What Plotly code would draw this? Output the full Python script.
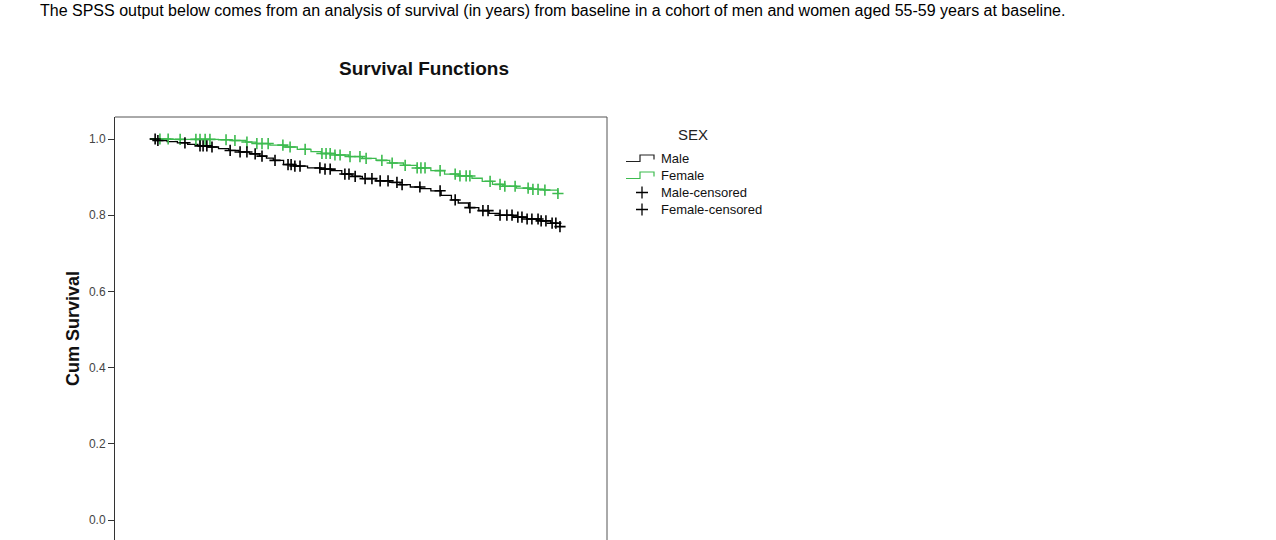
import plotly.graph_objects as go
import numpy as np

# ---- data (time in years, cumulative survival) ----
male_t = [0.0, 0.2, 0.5, 0.8, 1.1, 1.4, 1.7, 2.0, 2.3, 2.6, 2.9, 3.2, 3.4, 3.6, 3.9,
          4.2, 4.6, 5.0, 5.3, 5.6, 5.9, 6.2, 6.6, 7.0, 7.3, 7.6, 7.9, 8.2, 8.5, 8.8,
          9.0, 9.3, 9.6, 9.9, 10.2, 10.6, 11.0, 11.4, 11.7, 11.97]
male_s = [1.000, 0.996, 0.993, 0.990, 0.986, 0.982, 0.979, 0.975, 0.970, 0.966, 0.961,
          0.955, 0.950, 0.944, 0.933, 0.929, 0.924, 0.921, 0.917, 0.908, 0.902, 0.896,
          0.890, 0.886, 0.880, 0.874, 0.870, 0.864, 0.852, 0.840, 0.832, 0.820, 0.812,
          0.805, 0.800, 0.795, 0.790, 0.785, 0.779, 0.770]

female_t = [0.0, 0.6, 2.0, 2.4, 2.8, 3.1, 3.5, 3.9, 4.3, 4.7, 5.0, 5.4, 5.8, 6.2, 6.6,
            7.0, 7.4, 7.8, 8.2, 8.6, 9.0, 9.4, 9.7, 10.0, 10.3, 10.7, 11.1, 11.5, 11.91]
female_s = [1.000, 0.999, 0.998, 0.996, 0.992, 0.988, 0.984, 0.979, 0.973, 0.967, 0.962,
            0.958, 0.954, 0.949, 0.944, 0.937, 0.931, 0.924, 0.917, 0.908, 0.903, 0.897,
            0.889, 0.881, 0.876, 0.871, 0.868, 0.866, 0.857]

male_cens = [0.15, 0.23, 1.02, 1.46, 1.55, 1.66, 1.81, 2.34, 2.63, 2.83, 3.07, 3.27, 3.65,
             4.03, 4.12, 4.23, 4.38, 4.96, 5.11, 5.26, 5.69, 5.81, 5.99, 6.28, 6.48, 6.72,
             6.95, 7.21, 7.36, 7.88, 8.47, 8.91, 9.34, 9.72, 9.87, 10.22, 10.42, 10.57,
             10.74, 10.86, 11.01, 11.15, 11.33, 11.42, 11.56, 11.74, 11.85, 11.97]
female_cens = [0.29, 0.53, 0.88, 1.34, 1.46, 1.61, 1.75, 2.22, 2.48, 2.83, 3.12, 3.27, 3.45,
               3.88, 4.09, 4.53, 5.02, 5.14, 5.26, 5.40, 5.55, 5.84, 6.13, 6.31, 6.77, 7.07,
               7.45, 7.80, 7.91, 8.03, 8.47, 8.91, 9.05, 9.23, 9.34, 9.93, 10.22, 10.36,
               10.66, 11.04, 11.18, 11.33, 11.53, 11.91]

y_ticks = [0.0, 0.2, 0.4, 0.6, 0.8, 1.0]
y_tick_labels = ["0.0", "0.2", "0.4", "0.6", "0.8", "1.0"]

GREEN = "#3dbb4f"
BLACK = "#000000"


def step_lookup(ts, ss, q):
    idx = np.searchsorted(np.array(ts), q, side="right") - 1
    return [ss[i] for i in idx]


# ---- layout geometry (screen pixels; body margin removed by post_script) ----
W, H = 1276, 540
L, R, T = 115, 607, 117          # screen coords of plot box
B = H + 2                        # plot bottom hidden just below the window

def px(x):
    return (x - L) / (R - L)
def py(y):
    return (B - y) / (B - T)

fig = go.Figure()

fig.add_trace(go.Scatter(x=male_t, y=male_s, mode="lines", line=dict(color=BLACK, width=1.3, shape="hv"),
                         showlegend=False, hoverinfo="skip"))
fig.add_trace(go.Scatter(x=female_t, y=female_s, mode="lines", line=dict(color=GREEN, width=1.3, shape="hv"),
                         showlegend=False, hoverinfo="skip"))
fig.add_trace(go.Scatter(x=female_cens, y=step_lookup(female_t, female_s, female_cens), mode="markers",
                         marker=dict(symbol="cross-thin", size=8, line=dict(color=GREEN, width=1.6)),
                         showlegend=False, hoverinfo="skip"))
fig.add_trace(go.Scatter(x=male_cens, y=step_lookup(male_t, male_s, male_cens), mode="markers",
                         marker=dict(symbol="cross-thin", size=8, line=dict(color=BLACK, width=1.6)),
                         showlegend=False, hoverinfo="skip"))

# x scale: 0 years at px 150, 34.25 px per year
x0 = (L - 150) / 34.25
x1 = (R - 150) / 34.25
# y scale: 1.0 at px 139, 0.0 at px 520
ppu = 381.0
ylo = -(B - 520) / ppu
yhi = 1 + (139 - T) / ppu

fig.update_layout(
    width=W, height=H + 2,
    margin=dict(l=L, r=W - R, t=T, b=0),
    paper_bgcolor="white", plot_bgcolor="white",
    font=dict(family="Liberation Sans, Arial, sans-serif", color="#222"),
    xaxis=dict(range=[x0, x1], showgrid=False, zeroline=False, showticklabels=False, ticks="",
               showline=False),
    yaxis=dict(range=[ylo, yhi], showgrid=False, zeroline=False, tickvals=y_ticks,
               ticktext=y_tick_labels, ticks="outside", ticklen=6, tickwidth=1, tickcolor="#333",
               showline=True, linecolor="#333", linewidth=1,
               tickfont=dict(size=12, color="#444")),
    showlegend=False,
)

# frame (top and right; left is y axis line)
fig.add_shape(type="line", xref="paper", yref="paper", x0=0, x1=1, y0=1, y1=1,
              line=dict(color="#555", width=1))
fig.add_shape(type="line", xref="paper", yref="paper", x0=1, x1=1, y0=0, y1=1,
              line=dict(color="#555", width=1))

# page text
fig.add_annotation(xref="paper", yref="paper", x=px(38), y=py(10), xanchor="left", yanchor="middle",
                   text="The SPSS output below comes from an analysis of survival (in years) from baseline in a cohort of men and women aged 55-59 years at baseline.",
                   showarrow=False, font=dict(size=16, color="#000"))
fig.add_annotation(xref="paper", yref="paper", x=px(423.5), y=py(68), xanchor="center", yanchor="middle",
                   text="<b>Survival Functions</b>", showarrow=False, font=dict(size=19, color="#111"))
fig.add_annotation(xref="paper", yref="paper", x=px(73), y=py(329), xanchor="center", yanchor="middle",
                   text="<b>Cum Survival</b>", textangle=-90, showarrow=False, font=dict(size=18, color="#111"))

# legend
fig.add_annotation(xref="paper", yref="paper", x=px(693), y=py(134), xanchor="center", yanchor="middle",
                   text="SEX", showarrow=False, font=dict(size=15, color="#222"))
legend_items = [("Male", 158.5, "step", "#222"), ("Female", 175.5, "step", GREEN),
                ("Male-censored", 192.5, "cross", "#000"), ("Female-censored", 209.5, "cross", "#000")]
for label, yy, kind, col in legend_items:
    fig.add_annotation(xref="paper", yref="paper", x=px(659), y=py(yy), xanchor="left", yanchor="middle",
                       text=label, showarrow=False, font=dict(size=13, color="#111"))
    if kind == "step":
        path = (f"M {px(626)},{py(yy + 3)} L {px(640)},{py(yy + 3)} L {px(640)},{py(yy - 3.5)} "
                f"L {px(654)},{py(yy - 3.5)} L {px(654)},{py(yy + 1)}")
        fig.add_shape(type="path", xref="paper", yref="paper", path=path, line=dict(color=col, width=1.2))
    else:
        path = (f"M {px(636)},{py(yy)} L {px(648)},{py(yy)} M {px(642)},{py(yy - 6)} L {px(642)},{py(yy + 6)}")
        fig.add_shape(type="path", xref="paper", yref="paper", path=path, line=dict(color=col, width=1.3))

fig.write_html("out.html", config={"displayModeBar": False},
               post_script="document.body.style.margin='0';document.body.style.overflow='hidden';")
